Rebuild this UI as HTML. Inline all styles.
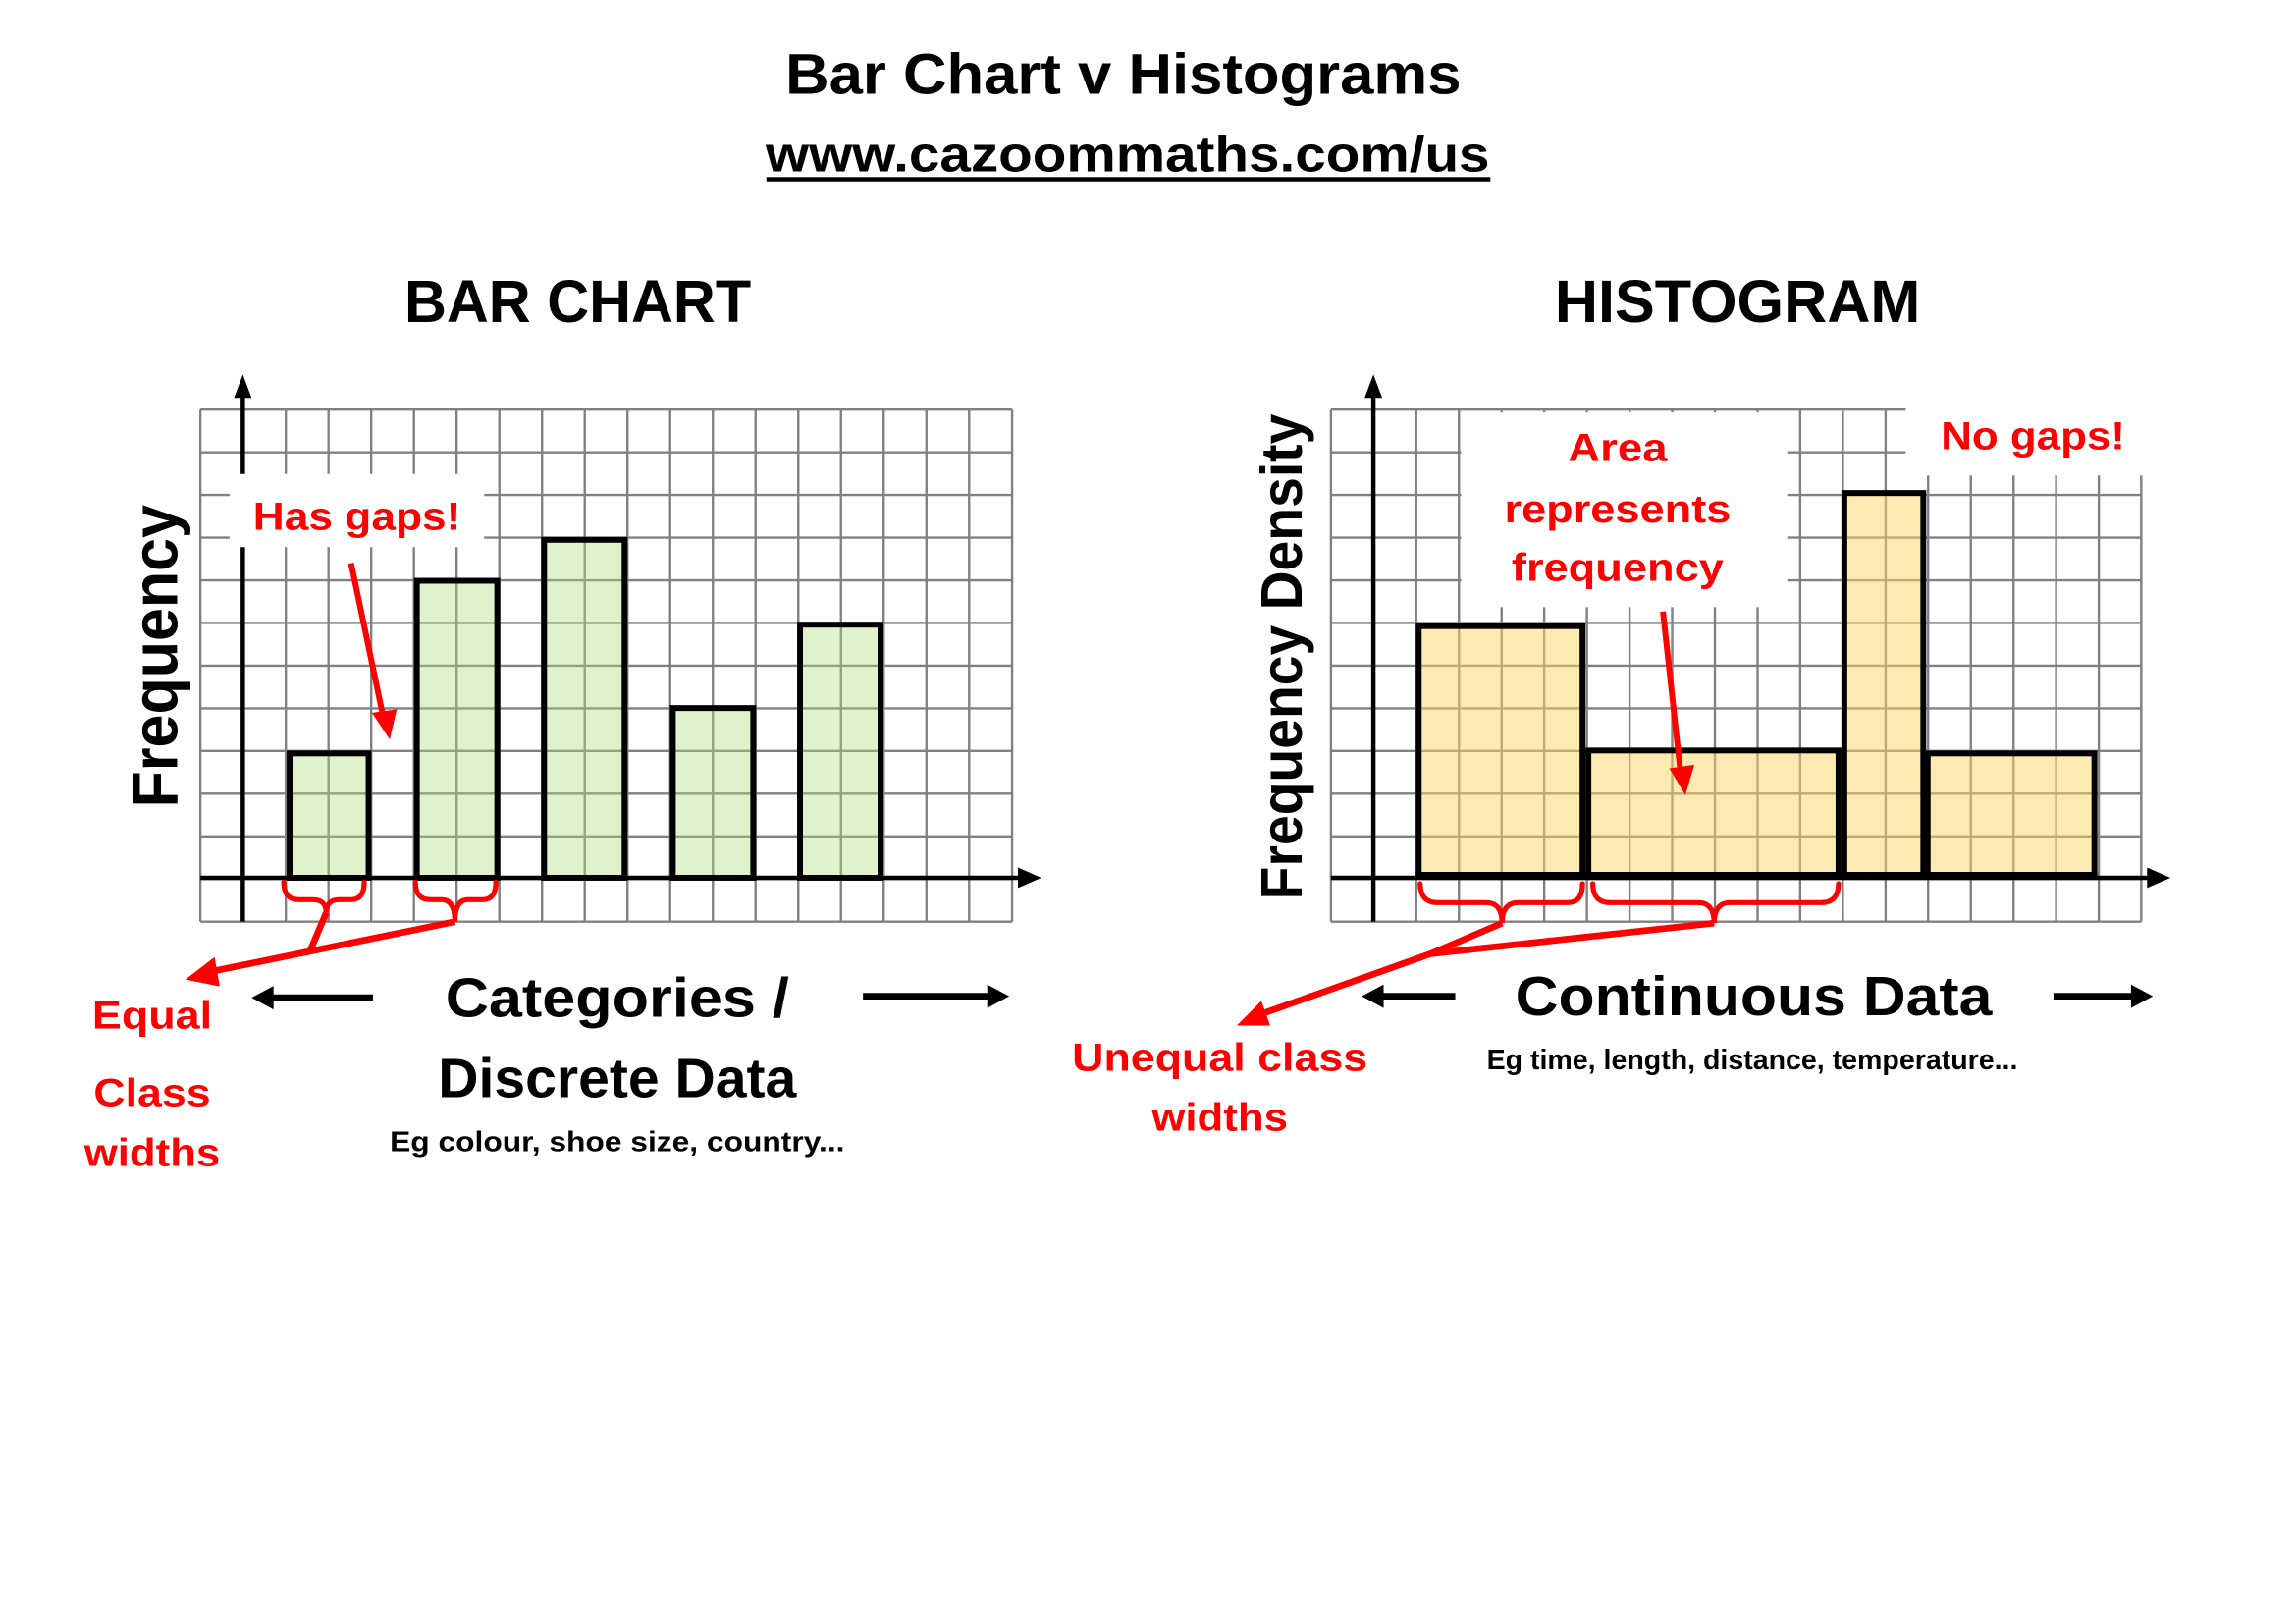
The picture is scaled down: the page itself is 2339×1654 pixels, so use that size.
<!DOCTYPE html>
<html><head><meta charset="utf-8"><style>
html,body{margin:0;padding:0;background:#fff;}
svg{display:block;}
text{font-family:"Liberation Sans",sans-serif;font-weight:bold;}
</style></head><body>
<svg width="2339" height="1654" viewBox="0 0 1569.8 1110.1" xmlns="http://www.w3.org/2000/svg">
<rect width="1570" height="1111" fill="#fff"/>

<text x="768" y="64" font-size="39" text-anchor="middle" textLength="462" lengthAdjust="spacingAndGlyphs">Bar Chart v Histograms</text>
<text x="771" y="117" font-size="34" text-anchor="middle" textLength="495" lengthAdjust="spacingAndGlyphs">www.cazoommaths.com/us</text>
<rect x="524" y="121" width="495" height="3" fill="#000"/>
<text x="395" y="220" font-size="41" text-anchor="middle" textLength="237" lengthAdjust="spacingAndGlyphs">BAR CHART</text>
<text x="1188" y="220" font-size="41" text-anchor="middle" textLength="250" lengthAdjust="spacingAndGlyphs">HISTOGRAM</text>

<!-- LEFT GRID -->
<g stroke="#808080" stroke-width="1.6" fill="none">
<path d="M137 280H692M137 309.2H692M137 338.3H692M137 367.5H692M137 396.7H692M137 425.8H692M137 455H692M137 484.2H692M137 513.3H692M137 542.5H692M137 571.7H692M137 600.8H692M137 630H692"/>
<path d="M137 280V630M166.2 280V630M195.4 280V630M224.6 280V630M253.8 280V630M283 280V630M312.2 280V630M341.4 280V630M370.6 280V630M399.8 280V630M429 280V630M458.2 280V630M487.4 280V630M516.6 280V630M545.8 280V630M575 280V630M604.2 280V630M633.4 280V630M662.6 280V630M692 280V630"/>
</g>
<path d="M166 630V268" stroke="#000" stroke-width="3"/>
<path d="M160 272L166 256L172 272Z" fill="#000"/>
<path d="M137 600H698" stroke="#000" stroke-width="3"/>
<path d="M696 593L712 600L696 607Z" fill="#000"/>
<g fill="rgba(170,220,120,0.38)" stroke="#000" stroke-width="4">
<rect x="198" y="515" width="54" height="85"/>
<rect x="285" y="397" width="55" height="203"/>
<rect x="372" y="369" width="55" height="231"/>
<rect x="460" y="484" width="55" height="116"/>
<rect x="547" y="427" width="55" height="173"/>
</g>
<rect x="157" y="324" width="174" height="50" fill="#fff"/>
<text x="244" y="362" font-size="27" fill="#f00" text-anchor="middle" textLength="142" lengthAdjust="spacingAndGlyphs">Has gaps!</text>
<path d="M240 385L262 490" stroke="#f00" stroke-width="4"/>
<path d="M256 488L266 503L270 486Z" fill="#f00" stroke="#f00" stroke-width="2"/>
<g stroke="#f00" stroke-width="3.5" fill="none" stroke-linecap="round">
<path d="M194 603Q194 615 204 615H214Q223 615 223 624Q223 615 232 615H240Q249 615 249 603"/>
<path d="M284 603Q284 615 294 615H302Q311 615 311 630Q311 615 320 615H330Q339 615 339 603"/>
</g>
<path d="M223 624L212 650M311 630L140 665" stroke="#f00" stroke-width="4.5" fill="none"/>
<path d="M146 656L129 669L149 673Z" fill="#f00" stroke="#f00" stroke-width="2"/>
<g font-size="27" fill="#f00" text-anchor="middle">
<text x="104" y="703" textLength="82" lengthAdjust="spacingAndGlyphs">Equal</text>
<text x="104" y="756" textLength="80" lengthAdjust="spacingAndGlyphs">Class</text>
<text x="104" y="797" textLength="93" lengthAdjust="spacingAndGlyphs">widths</text>
</g>
<text transform="translate(121,552) rotate(-90)" font-size="44" textLength="207" lengthAdjust="spacingAndGlyphs">Frequency</text>
<path d="M255 682H184" stroke="#000" stroke-width="4.5"/>
<path d="M187 674L172 682L187 690Z" fill="#000"/>
<path d="M590 681H678" stroke="#000" stroke-width="4.5"/>
<path d="M675 673L690 681L675 689Z" fill="#000"/>
<text x="422" y="695" font-size="38" text-anchor="middle" textLength="235" lengthAdjust="spacingAndGlyphs">Categories /</text>
<text x="422" y="750" font-size="38" text-anchor="middle" textLength="245" lengthAdjust="spacingAndGlyphs">Discrete Data</text>
<text x="422" y="787" font-size="19" text-anchor="middle" textLength="311" lengthAdjust="spacingAndGlyphs">Eg colour, shoe size,  country...</text>

<!-- RIGHT GRID -->
<g stroke="#808080" stroke-width="1.6" fill="none">
<path d="M910 280H1303M910 309.2H1303M910 338.3H1464M910 367.5H1464M910 396.7H1464M910 425.8H1464M910 455H1464M910 484.2H1464M910 513.3H1464M910 542.5H1464M910 571.7H1464M910 600.8H1464M910 630H1464"/>
<path d="M910 280V630M939.2 280V630M968.3 280V630M997.5 280V630M1026.7 280V630M1055.8 280V630M1085 280V630M1114.2 280V630M1143.3 280V630M1172.5 280V630M1201.7 280V630M1230.8 280V630M1260 280V630M1289.2 280V630M1318.3 325V630M1347.5 325V630M1376.7 325V630M1405.8 325V630M1435 325V630M1464 325V630"/>
</g>
<path d="M939 630V268" stroke="#000" stroke-width="3"/>
<path d="M933 272L939 256L945 272Z" fill="#000"/>
<path d="M910 600H1470" stroke="#000" stroke-width="3"/>
<path d="M1468 593L1484 600L1468 607Z" fill="#000"/>
<g fill="rgba(252,214,100,0.5)" stroke="#000" stroke-width="4">
<rect x="970" y="428" width="112" height="170"/>
<rect x="1086" y="513" width="171" height="85"/>
<rect x="1261" y="337" width="54" height="261"/>
<rect x="1318" y="515" width="114" height="83"/>
</g>
<path d="M968 598H1434" stroke="#000" stroke-width="4"/>
<rect x="999" y="282" width="223" height="133" fill="#fff"/>
<g font-size="27" fill="#f00" text-anchor="middle">
<text x="1106" y="315" textLength="68" lengthAdjust="spacingAndGlyphs">Area</text>
<text x="1106" y="357" textLength="155" lengthAdjust="spacingAndGlyphs">represents</text>
<text x="1106" y="397" textLength="145" lengthAdjust="spacingAndGlyphs">frequency</text>
<text x="1390" y="307" textLength="126" lengthAdjust="spacingAndGlyphs">No gaps!</text>
</g>
<path d="M1137 418L1149 528" stroke="#f00" stroke-width="4"/>
<path d="M1143 526L1152 541L1157 524Z" fill="#f00" stroke="#f00" stroke-width="2"/>
<g stroke="#f00" stroke-width="3.5" fill="none" stroke-linecap="round">
<path d="M971 604Q971 617 983 617H1016Q1027 617 1027 631Q1027 617 1038 617H1072Q1082 617 1082 604"/>
<path d="M1089 604Q1089 617 1101 617H1161Q1172 617 1172 631Q1172 617 1183 617H1245Q1257 617 1257 604"/>
</g>
<path d="M1027 631L978 652L1172 631M978 652L860 694" stroke="#f00" stroke-width="4.5" fill="none" stroke-linejoin="round"/>
<path d="M862 686L848 700L867 700Z" fill="#f00" stroke="#f00" stroke-width="2"/>
<g font-size="27" fill="#f00" text-anchor="middle">
<text x="834" y="732" textLength="202" lengthAdjust="spacingAndGlyphs">Unequal class</text>
<text x="834" y="773" textLength="93" lengthAdjust="spacingAndGlyphs">widths</text>
</g>
<text transform="translate(890,615) rotate(-90)" font-size="40" textLength="332" lengthAdjust="spacingAndGlyphs">Frequency Density</text>
<path d="M995 681H943" stroke="#000" stroke-width="4.5"/>
<path d="M946 673L931 681L946 689Z" fill="#000"/>
<path d="M1404 681H1460" stroke="#000" stroke-width="4.5"/>
<path d="M1457 673L1472 681L1457 689Z" fill="#000"/>
<text x="1199" y="694" font-size="38" text-anchor="middle" textLength="326" lengthAdjust="spacingAndGlyphs">Continuous Data</text>
<text x="1198" y="731" font-size="19" text-anchor="middle" textLength="363" lengthAdjust="spacingAndGlyphs">Eg time, length, distance, temperature...</text>
</svg>
</body></html>
